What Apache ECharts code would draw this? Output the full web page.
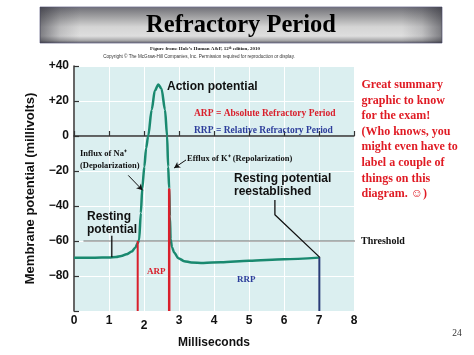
<!DOCTYPE html>
<html><head><meta charset="utf-8">
<script src="https://cdn.jsdelivr.net/npm/echarts@6/dist/echarts.min.js"></script>
<style>html,body{margin:0;padding:0;background:#fff}#c{width:474px;height:355px}</style>
</head><body><div id="c"></div>
<script>
// ---- data ----
const timeMs = [0, 0.6, 1.0, 1.2, 1.35, 1.5, 1.65, 1.75, 1.82, 1.86, 1.91, 1.95, 2.01, 2.06, 2.12, 2.22, 2.31, 2.41, 2.5, 2.6, 2.66, 2.69, 2.72, 2.74, 2.76, 2.8, 2.86, 2.98, 3.15, 3.35, 3.7, 4.2, 5.0, 6.0, 7.0];
const voltageMv = [-69.5, -69.5, -69.4, -69.2, -68.6, -67.6, -66, -63.8, -61.2, -59.4, -44, -30, -17.5, -7, 0, 15, 26, 29.5, 27, 15, 0, -17.5, -30, -46, -59, -63.5, -66.5, -69.8, -71.5, -72.3, -72.5, -72.2, -71.3, -70.4, -69.5];
const xTicks = [0, 1, 2, 3, 4, 5, 6, 7, 8];
const yTicks = [40, 20, 0, -20, -40, -60, -80];
const thresholdMv = -60;
const thresholdSpan = [0.27, 8.12];
const arpStartMs = 1.82, arpEndMs = 2.72, rrpEndMs = 7.01;
const arpStartTopMv = -60, arpEndTopMv = -30, rrpTopMv = -69.5, bottomMv = -100;
const restingPointer = [[1.08, -57], [1.08, -69.3]];
const reestablishedPointer = [[5.74, -36.6], [5.74, -45], [7.03, -69.5]];
const naArrow = [[1.55, -22.5], [1.96, -31]];
const kArrow = [[3.20, -13.7], [2.86, -18.3]];

const serif = '"Liberation Serif","Times New Roman",serif';
const sans = '"Liberation Sans",Arial,sans-serif';
const RED = '#d91f2b', BLUE = '#2c3d9b', TEAL = '#19896f', NAVY = '#2a3c78';

const pairs = timeMs.map((t, i) => [t, voltageMv[i]]);
const chart = echarts.init(document.getElementById('c'), null, {renderer: 'canvas'});

function txt(x, y, text, font, fill, extra) {
  return {type: 'text', x: x, y: y, z: 100, silent: true,
    style: Object.assign({text: text, font: font, fill: fill, align: 'left', verticalAlign: 'middle'}, extra || {})};
}

const option = {
  animation: false,
  backgroundColor: '#fff',
  grid: {left: 74, right: 120, top: 66, bottom: 44, show: true, backgroundColor: '#dbeff0', borderWidth: 0, containLabel: false, outerBoundsMode: 'none'},
  xAxis: {
    type: 'value', min: 0, max: 8, interval: 1,
    name: 'Milliseconds', nameLocation: 'middle', nameGap: 24,
    nameTextStyle: {fontFamily: sans, fontWeight: 'bold', fontSize: 12, color: '#111'},
    axisLine: {show: true, lineStyle: {color: '#333', width: 1.5}},
    axisTick: {show: true, inside: true, length: 5, lineStyle: {color: '#333', width: 1.2}},
    axisLabel: {fontFamily: sans, fontWeight: 'bold', fontSize: 12, color: '#111', margin: 4,
      formatter: v => v === 2 ? '{low|2}' : String(v),
      rich: {low: {fontFamily: sans, fontWeight: 'bold', fontSize: 12, color: '#111', padding: [5, 0, 0, 0]}}},
    splitLine: {show: true, lineStyle: {color: '#ffffff', width: 1}}
  },
  yAxis: {
    type: 'value', min: -100, max: 40, interval: 20,
    name: 'Membrane potential (millivolts)', nameLocation: 'middle', nameGap: 37, nameRotate: 90,
    nameTextStyle: {fontFamily: sans, fontWeight: 'bold', fontSize: 13, color: '#111'},
    axisLine: {show: true, lineStyle: {color: '#333', width: 1.5}},
    axisTick: {show: true, inside: true, length: 5, lineStyle: {color: '#333', width: 1.2}},
    axisLabel: {fontFamily: sans, fontWeight: 'bold', fontSize: 12, color: '#111', margin: 5,
      formatter: v => (yTicks.indexOf(v) < 0 ? '' : (v > 0 ? '+' + v : (v < 0 ? '\u2212' + (-v) : '0')))},
    splitLine: {show: true, lineStyle: {color: '#ffffff', width: 1}}
  },
  series: [
    {type: 'line', data: thresholdSpan.map(x => [x, thresholdMv]), clip: false, symbol: 'none', silent: true,
     lineStyle: {color: '#6e6e6e', width: 1}, z: 2},
    {type: 'line', data: pairs, smooth: 0.3, smoothMonotone: 'x', symbol: 'none', silent: true, clip: false,
     lineStyle: {color: TEAL, width: 2.5}, z: 3},
    {type: 'line', data: [[arpStartMs, arpStartTopMv], [arpStartMs, bottomMv]], symbol: 'none', clip: false, silent: true,
     lineStyle: {color: RED, width: 2}, z: 4},
    {type: 'line', data: [[arpEndMs, arpEndTopMv], [arpEndMs, bottomMv]], symbol: 'none', clip: false, silent: true,
     lineStyle: {color: RED, width: 2.5}, z: 4},
    {type: 'line', data: [[rrpEndMs, rrpTopMv], [rrpEndMs, bottomMv]], symbol: 'none', clip: false, silent: true,
     lineStyle: {color: NAVY, width: 2}, z: 4},
    {type: 'line', data: restingPointer, symbol: 'none', clip: false, silent: true,
     lineStyle: {color: '#111', width: 1.3}, z: 5},
    {type: 'line', data: reestablishedPointer, symbol: 'none', clip: false, silent: true,
     lineStyle: {color: '#111', width: 1.3}, z: 5,
     markLine: {silent: true, symbol: ['none', 'arrow'], symbolSize: [5, 6], label: {show: false},
       lineStyle: {color: '#111', width: 1, type: 'solid'}, animation: false,
       data: [
         [{coord: naArrow[0]}, {coord: naArrow[1]}],
         [{coord: kArrow[0]}, {coord: kArrow[1]}]
       ]}}
  ],
  graphic: [
    {type: 'rect', silent: true, z: 90, shape: {x: 40, y: 7, width: 402, height: 36},
     style: {fill: new echarts.graphic.LinearGradient(0, 0, 0, 1, [
       {offset: 0, color: '#6e6e76'}, {offset: 0.25, color: '#9c9c9e'}, {offset: 0.55, color: '#d4d4d4'},
       {offset: 0.8, color: '#dedede'}, {offset: 0.92, color: '#a8a8aa'}, {offset: 1, color: '#55555f'}]),
       stroke: '#6e6e90', lineWidth: 0.8}},
    {type: 'rect', silent: true, z: 91, shape: {x: 40, y: 7, width: 402, height: 36},
     style: {fill: new echarts.graphic.LinearGradient(0, 0, 1, 0, [
       {offset: 0, color: 'rgba(30,30,40,0.5)'}, {offset: 0.05, color: 'rgba(30,30,40,0.15)'}, {offset: 0.1, color: 'rgba(30,30,40,0)'},
       {offset: 0.9, color: 'rgba(30,30,40,0)'}, {offset: 0.95, color: 'rgba(30,30,40,0.15)'}, {offset: 1, color: 'rgba(30,30,40,0.5)'}])}},
    txt(241, 26, 'Refractory Period', 'bold 24.5px ' + serif, '#000', {align: 'center'}),
    txt(205, 49, 'Figure from: Hole\u2019s Human A&P, 12\u1d57\u02b0 edition, 2010', 'bold 5px ' + serif, '#222', {align: 'center'}),
    txt(199, 57, 'Copyright \u00a9 The McGraw-Hill Companies, Inc. Permission required for reproduction or display.', '4.6px ' + sans, '#333', {align: 'center'}),
    txt(167, 86.7, 'Action potential', 'bold 12px ' + sans, '#111'),
    txt(194, 114, 'ARP = Absolute Refractory Period', 'bold 9.5px ' + serif, RED),
    txt(194, 130.7, 'RRP = Relative Refractory Period', 'bold 9.5px ' + serif, BLUE),
    txt(80, 148.3, 'Influx of Na\u207a\n(Depolarization)', 'bold 8.5px ' + serif, '#111', {verticalAlign: 'top', lineHeight: 11.5}),
    txt(187, 159, 'Efflux of K\u207a (Repolarization)', 'bold 8.5px ' + serif, '#111'),
    txt(234, 172.6, 'Resting potential\nreestablished', 'bold 12px ' + sans, '#111', {verticalAlign: 'top', lineHeight: 12.7}),
    txt(87, 210.8, 'Resting\npotential', 'bold 12px ' + sans, '#111', {verticalAlign: 'top', lineHeight: 12.5}),
    txt(147, 272, 'ARP', 'bold 9px ' + serif, RED),
    txt(237, 280, 'RRP', 'bold 9px ' + serif, BLUE),
    txt(361, 241.5, 'Threshold', 'bold 10px ' + serif, '#111'),
    txt(361.5, 77.2, 'Great summary\ngraphic to know\nfor the exam!\n(Who knows, you\nmight even have to\nlabel a couple of\nthings on this\ndiagram. \u263a)', 'bold 12px ' + serif, '#e01b24', {verticalAlign: 'top', lineHeight: 15.6}),
    txt(457, 333, '24', '9.5px ' + serif, '#333', {align: 'center'})
  ]
};
chart.setOption(option);
</script>
</body></html>
